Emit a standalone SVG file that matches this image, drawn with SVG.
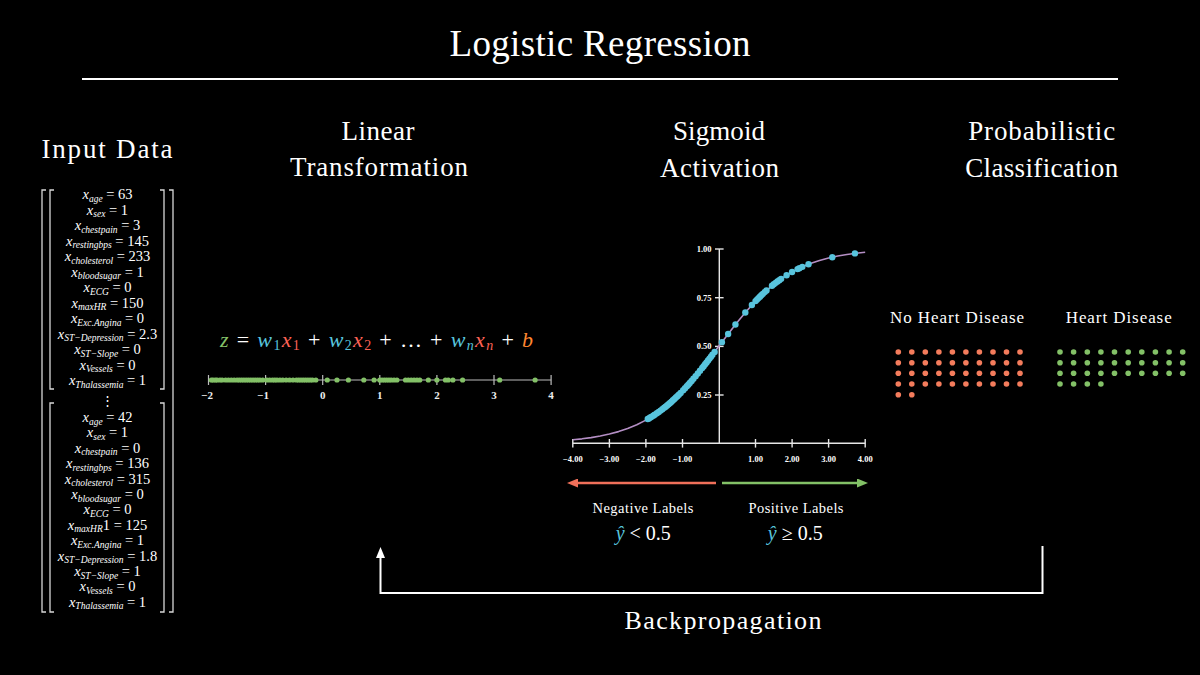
<svg xmlns="http://www.w3.org/2000/svg" width="1200" height="675" viewBox="0 0 1200 675" font-family="'Liberation Serif', 'DejaVu Serif', serif">
<style>
text{font-family:'Liberation Serif','DejaVu Serif',serif;fill:#fff}
.it{font-style:italic}
.row{font-size:14.5px;text-anchor:middle}
.sub{font-size:9.5px;font-style:italic}
.hd{font-size:27px;text-anchor:middle}
.tick{font-size:11px;font-weight:bold;text-anchor:middle;fill:#eee}
.ax{font-size:8.5px;font-weight:bold;fill:#eee}
.br{fill:none;stroke:#d8d8d8;stroke-width:1.3}
.g{fill:#83c167}.b{fill:#58c4dd}.r{fill:#fc6255}.o{fill:#ff862f}
.nd{fill:#83c167}.sd{fill:#58c4dd}
.lbl{font-size:17px;text-anchor:middle}
</style>
<defs>
<marker id="ahW" viewBox="0 0 11 9" refX="5" refY="4.5" markerWidth="11" markerHeight="9" markerUnits="userSpaceOnUse" orient="auto"><path d="M0,0 L11,4.5 L0,9 z" fill="#fff"/></marker>
<marker id="ahR" viewBox="0 0 11 9" refX="5" refY="4.5" markerWidth="11" markerHeight="9" markerUnits="userSpaceOnUse" orient="auto"><path d="M0,0 L11,4.5 L0,9 z" fill="#f0705a"/></marker>
<marker id="ahG" viewBox="0 0 11 9" refX="5" refY="4.5" markerWidth="11" markerHeight="9" markerUnits="userSpaceOnUse" orient="auto"><path d="M0,0 L11,4.5 L0,9 z" fill="#83c167"/></marker>
</defs>
<rect width="1200" height="675" fill="#000"/>

<g id="title">
<text x="600" y="56" font-size="37" text-anchor="middle" textLength="301" lengthAdjust="spacing">Logistic Regression</text>
<line x1="82" y1="79" x2="1118" y2="79" stroke="#fff" stroke-width="2"/>
</g>

<g id="input-data">
<text class="hd" x="107" y="158" textLength="131" lengthAdjust="spacing">Input Data</text>
<path class="br" d="M46,190 H42 V612 H46"/>
<path class="br" d="M54,190 H50 V389 H54"/>
<path class="br" d="M54,403 H50 V612 H54"/>
<path class="br" d="M160,190 H164 V389 H160"/>
<path class="br" d="M160,403 H164 V612 H160"/>
<path class="br" d="M169,190 H173 V612 H169"/>
<text class="row" x="107.5" y="199"><tspan class="it">x</tspan><tspan class="sub" dy="2.5">age</tspan><tspan dy="-2.5"> = 63</tspan></text>
<text class="row" x="107.5" y="214.5"><tspan class="it">x</tspan><tspan class="sub" dy="2.5">sex</tspan><tspan dy="-2.5"> = 1</tspan></text>
<text class="row" x="107.5" y="230"><tspan class="it">x</tspan><tspan class="sub" dy="2.5">chestpain</tspan><tspan dy="-2.5"> = 3</tspan></text>
<text class="row" x="107.5" y="245.5"><tspan class="it">x</tspan><tspan class="sub" dy="2.5">restingbps</tspan><tspan dy="-2.5"> = 145</tspan></text>
<text class="row" x="107.5" y="261"><tspan class="it">x</tspan><tspan class="sub" dy="2.5">cholesterol</tspan><tspan dy="-2.5"> = 233</tspan></text>
<text class="row" x="107.5" y="276.5"><tspan class="it">x</tspan><tspan class="sub" dy="2.5">bloodsugar</tspan><tspan dy="-2.5"> = 1</tspan></text>
<text class="row" x="107.5" y="292"><tspan class="it">x</tspan><tspan class="sub" dy="2.5">ECG</tspan><tspan dy="-2.5"> = 0</tspan></text>
<text class="row" x="107.5" y="307.5"><tspan class="it">x</tspan><tspan class="sub" dy="2.5">maxHR</tspan><tspan dy="-2.5"> = 150</tspan></text>
<text class="row" x="107.5" y="323"><tspan class="it">x</tspan><tspan class="sub" dy="2.5">Exc.Angina</tspan><tspan dy="-2.5"> = 0</tspan></text>
<text class="row" x="107.5" y="338.5"><tspan class="it">x</tspan><tspan class="sub" dy="2.5">ST−Depression</tspan><tspan dy="-2.5"> = 2.3</tspan></text>
<text class="row" x="107.5" y="354"><tspan class="it">x</tspan><tspan class="sub" dy="2.5">ST−Slope</tspan><tspan dy="-2.5"> = 0</tspan></text>
<text class="row" x="107.5" y="369.5"><tspan class="it">x</tspan><tspan class="sub" dy="2.5">Vessels</tspan><tspan dy="-2.5"> = 0</tspan></text>
<text class="row" x="107.5" y="385"><tspan class="it">x</tspan><tspan class="sub" dy="2.5">Thalassemia</tspan><tspan dy="-2.5"> = 1</tspan></text>
<text x="107" y="405" font-size="13" text-anchor="middle" style="font-family:'DejaVu Serif',serif">⋮</text>
<text class="row" x="107.5" y="422"><tspan class="it">x</tspan><tspan class="sub" dy="2.5">age</tspan><tspan dy="-2.5"> = 42</tspan></text>
<text class="row" x="107.5" y="437.4"><tspan class="it">x</tspan><tspan class="sub" dy="2.5">sex</tspan><tspan dy="-2.5"> = 1</tspan></text>
<text class="row" x="107.5" y="452.8"><tspan class="it">x</tspan><tspan class="sub" dy="2.5">chestpain</tspan><tspan dy="-2.5"> = 0</tspan></text>
<text class="row" x="107.5" y="468.2"><tspan class="it">x</tspan><tspan class="sub" dy="2.5">restingbps</tspan><tspan dy="-2.5"> = 136</tspan></text>
<text class="row" x="107.5" y="483.6"><tspan class="it">x</tspan><tspan class="sub" dy="2.5">cholesterol</tspan><tspan dy="-2.5"> = 315</tspan></text>
<text class="row" x="107.5" y="499"><tspan class="it">x</tspan><tspan class="sub" dy="2.5">bloodsugar</tspan><tspan dy="-2.5"> = 0</tspan></text>
<text class="row" x="107.5" y="514.4"><tspan class="it">x</tspan><tspan class="sub" dy="2.5">ECG</tspan><tspan dy="-2.5"> = 0</tspan></text>
<text class="row" x="107.5" y="529.8"><tspan class="it">x</tspan><tspan class="sub" dy="2.5">maxHR</tspan><tspan dy="-2.5">1 = 125</tspan></text>
<text class="row" x="107.5" y="545.2"><tspan class="it">x</tspan><tspan class="sub" dy="2.5">Exc.Angina</tspan><tspan dy="-2.5"> = 1</tspan></text>
<text class="row" x="107.5" y="560.6"><tspan class="it">x</tspan><tspan class="sub" dy="2.5">ST−Depression</tspan><tspan dy="-2.5"> = 1.8</tspan></text>
<text class="row" x="107.5" y="576"><tspan class="it">x</tspan><tspan class="sub" dy="2.5">ST−Slope</tspan><tspan dy="-2.5"> = 1</tspan></text>
<text class="row" x="107.5" y="591.4"><tspan class="it">x</tspan><tspan class="sub" dy="2.5">Vessels</tspan><tspan dy="-2.5"> = 0</tspan></text>
<text class="row" x="107.5" y="606.8"><tspan class="it">x</tspan><tspan class="sub" dy="2.5">Thalassemia</tspan><tspan dy="-2.5"> = 1</tspan></text>
</g>

<g id="linear-transformation">
<text class="hd" x="378" y="140" textLength="73" lengthAdjust="spacing">Linear</text>
<text class="hd" x="379" y="176" textLength="178" lengthAdjust="spacing">Transformation</text>
<text x="376.5" y="347" font-size="22" text-anchor="middle" textLength="313" lengthAdjust="spacing"><tspan class="g it">z</tspan><tspan> = </tspan><tspan class="b it">w</tspan><tspan class="b" font-size="14" dy="3">1</tspan><tspan class="r it" dy="-3">x</tspan><tspan class="r" font-size="14" dy="3">1</tspan><tspan dy="-3"> + </tspan><tspan class="b it">w</tspan><tspan class="b" font-size="14" dy="3">2</tspan><tspan class="r it" dy="-3">x</tspan><tspan class="r" font-size="14" dy="3">2</tspan><tspan dy="-3"> + … + </tspan><tspan class="b it">w</tspan><tspan class="b it" font-size="14" dy="3">n</tspan><tspan class="r it" dy="-3">x</tspan><tspan class="r it" font-size="14" dy="3">n</tspan><tspan dy="-3"> + </tspan><tspan class="o it">b</tspan></text>
<g stroke="#bbb" stroke-width="1.2">
<line x1="208.5" y1="380" x2="551.1" y2="380"/>
<line x1="208.5" y1="375" x2="208.5" y2="385"/>
<line x1="265.6" y1="375" x2="265.6" y2="385"/>
<line x1="322.7" y1="375" x2="322.7" y2="385"/>
<line x1="379.8" y1="375" x2="379.8" y2="385"/>
<line x1="436.9" y1="375" x2="436.9" y2="385"/>
<line x1="494" y1="375" x2="494" y2="385"/>
<line x1="551.1" y1="375" x2="551.1" y2="385"/>
</g>
<text class="tick" x="207" y="399">−2</text>
<text class="tick" x="263" y="399">−1</text>
<text class="tick" x="322.7" y="399">0</text>
<text class="tick" x="379.8" y="399">1</text>
<text class="tick" x="436.9" y="399">2</text>
<text class="tick" x="494" y="399">3</text>
<text class="tick" x="551.1" y="399">4</text>
<g class="nd">
<circle cx="211.35" cy="380" r="2.6"/><circle cx="213.07" cy="380" r="2.6"/><circle cx="215.35" cy="380" r="2.6"/><circle cx="217.06" cy="380" r="2.6"/><circle cx="219.92" cy="380" r="2.6"/><circle cx="222.2" cy="380" r="2.6"/><circle cx="225.63" cy="380" r="2.6"/><circle cx="228.48" cy="380" r="2.6"/><circle cx="231.34" cy="380" r="2.6"/><circle cx="234.19" cy="380" r="2.6"/><circle cx="237.05" cy="380" r="2.6"/><circle cx="239.33" cy="380" r="2.6"/><circle cx="241.62" cy="380" r="2.6"/><circle cx="243.9" cy="380" r="2.6"/><circle cx="246.19" cy="380" r="2.6"/><circle cx="248.47" cy="380" r="2.6"/><circle cx="250.75" cy="380" r="2.6"/><circle cx="253.04" cy="380" r="2.6"/><circle cx="255.32" cy="380" r="2.6"/><circle cx="257.61" cy="380" r="2.6"/><circle cx="259.89" cy="380" r="2.6"/><circle cx="262.74" cy="380" r="2.6"/><circle cx="266.74" cy="380" r="2.6"/><circle cx="269.6" cy="380" r="2.6"/><circle cx="272.45" cy="380" r="2.6"/><circle cx="274.74" cy="380" r="2.6"/><circle cx="277.02" cy="380" r="2.6"/><circle cx="279.87" cy="380" r="2.6"/><circle cx="282.73" cy="380" r="2.6"/><circle cx="286.16" cy="380" r="2.6"/><circle cx="289.58" cy="380" r="2.6"/><circle cx="293.01" cy="380" r="2.6"/><circle cx="296.43" cy="380" r="2.6"/><circle cx="298.72" cy="380" r="2.6"/><circle cx="301" cy="380" r="2.6"/><circle cx="303.29" cy="380" r="2.6"/><circle cx="305.57" cy="380" r="2.6"/><circle cx="307.85" cy="380" r="2.6"/><circle cx="310.14" cy="380" r="2.6"/><circle cx="312.42" cy="380" r="2.6"/><circle cx="315.85" cy="380" r="2.6"/><circle cx="327.27" cy="380" r="2.6"/><circle cx="336.98" cy="380" r="2.6"/><circle cx="348.4" cy="380" r="2.6"/><circle cx="363.81" cy="380" r="2.6"/><circle cx="374.09" cy="380" r="2.6"/><circle cx="379.8" cy="380" r="2.6"/><circle cx="382.08" cy="380" r="2.6"/><circle cx="384.37" cy="380" r="2.6"/><circle cx="386.65" cy="380" r="2.6"/><circle cx="388.94" cy="380" r="2.6"/><circle cx="391.22" cy="380" r="2.6"/><circle cx="394.08" cy="380" r="2.6"/><circle cx="396.93" cy="380" r="2.6"/><circle cx="405.5" cy="380" r="2.6"/><circle cx="408.35" cy="380" r="2.6"/><circle cx="411.21" cy="380" r="2.6"/><circle cx="414.06" cy="380" r="2.6"/><circle cx="416.92" cy="380" r="2.6"/><circle cx="419.77" cy="380" r="2.6"/><circle cx="428.34" cy="380" r="2.6"/><circle cx="436.9" cy="380" r="2.6"/><circle cx="445.47" cy="380" r="2.6"/><circle cx="448.32" cy="380" r="2.6"/><circle cx="452.89" cy="380" r="2.6"/><circle cx="462.6" cy="380" r="2.6"/><circle cx="499.71" cy="380" r="2.6"/><circle cx="535.11" cy="380" r="2.6"/>
</g>
</g>

<g id="sigmoid-activation">
<text class="hd" x="719" y="140" textLength="92" lengthAdjust="spacing">Sigmoid</text>
<text class="hd" x="719.5" y="177" textLength="119" lengthAdjust="spacing">Activation</text>
<g stroke="#e6e6e6" stroke-width="1.4">
<line x1="572.8" y1="443.3" x2="865.2" y2="443.3"/>
<line x1="719.3" y1="249" x2="719.3" y2="443.3"/>
<line x1="572.8" y1="439" x2="572.8" y2="447.6"/>
<line x1="609.4" y1="439" x2="609.4" y2="447.6"/>
<line x1="645.9" y1="439" x2="645.9" y2="447.6"/>
<line x1="682.5" y1="439" x2="682.5" y2="447.6"/>
<line x1="755.5" y1="439" x2="755.5" y2="447.6"/>
<line x1="792.1" y1="439" x2="792.1" y2="447.6"/>
<line x1="828.6" y1="439" x2="828.6" y2="447.6"/>
<line x1="865.2" y1="439" x2="865.2" y2="447.6"/>
<line x1="715" y1="249" x2="723.6" y2="249"/>
<line x1="715" y1="297.7" x2="723.6" y2="297.7"/>
<line x1="715" y1="346.4" x2="723.6" y2="346.4"/>
<line x1="715" y1="395" x2="723.6" y2="395"/>
</g>
<g class="ax" text-anchor="middle">
<text x="572.8" y="462">−4.00</text>
<text x="609.4" y="462">−3.00</text>
<text x="645.9" y="462">−2.00</text>
<text x="682.5" y="462">−1.00</text>
<text x="755.5" y="462">1.00</text>
<text x="792.1" y="462">2.00</text>
<text x="828.6" y="462">3.00</text>
<text x="865.2" y="462">4.00</text>
</g>
<g class="ax" text-anchor="end">
<text x="711.5" y="252">1.00</text>
<text x="711.5" y="300.7">0.75</text>
<text x="711.5" y="349.4">0.50</text>
<text x="711.5" y="398">0.25</text>
</g>
<polyline fill="none" stroke="#b48ec4" stroke-width="1.6" stroke-linejoin="round" points="572.84,439.8 581.98,438.83 591.11,437.6 600.25,436.04 609.38,434.07 618.52,431.61 627.65,428.55 636.79,424.75 645.92,420.12 655.06,414.51 664.19,407.82 673.33,399.99 682.46,390.99 691.6,380.9 700.73,369.88 709.87,358.15 719,346.05 728.14,333.95 737.27,322.22 746.41,311.2 755.54,301.1 764.68,292.12 773.81,284.28 782.95,277.58 792.08,271.98 801.22,267.36 810.35,263.56 819.49,260.49 828.62,258.02 837.76,256.06 846.89,254.5 856.03,253.28 865.16,252.3"/>
<g class="sd">
<circle cx="647.75" cy="419.07" r="3.2"/><circle cx="648.84" cy="418.42" r="3.2"/><circle cx="650.3" cy="417.55" r="3.2"/><circle cx="651.4" cy="416.87" r="3.2"/><circle cx="653.23" cy="415.7" r="3.2"/><circle cx="654.69" cy="414.75" r="3.2"/><circle cx="656.88" cy="413.25" r="3.2"/><circle cx="658.71" cy="411.97" r="3.2"/><circle cx="660.54" cy="410.62" r="3.2"/><circle cx="662.36" cy="409.24" r="3.2"/><circle cx="664.19" cy="407.82" r="3.2"/><circle cx="665.65" cy="406.64" r="3.2"/><circle cx="667.11" cy="405.43" r="3.2"/><circle cx="668.57" cy="404.21" r="3.2"/><circle cx="670.04" cy="402.94" r="3.2"/><circle cx="671.5" cy="401.64" r="3.2"/><circle cx="672.96" cy="400.32" r="3.2"/><circle cx="674.42" cy="398.97" r="3.2"/><circle cx="675.88" cy="397.57" r="3.2"/><circle cx="677.34" cy="396.17" r="3.2"/><circle cx="678.81" cy="394.73" r="3.2"/><circle cx="680.63" cy="392.89" r="3.2"/><circle cx="683.19" cy="390.22" r="3.2"/><circle cx="685.02" cy="388.28" r="3.2"/><circle cx="686.84" cy="386.27" r="3.2"/><circle cx="688.31" cy="384.64" r="3.2"/><circle cx="689.77" cy="383" r="3.2"/><circle cx="691.59" cy="380.9" r="3.2"/><circle cx="693.42" cy="378.77" r="3.2"/><circle cx="695.61" cy="376.14" r="3.2"/><circle cx="697.81" cy="373.49" r="3.2"/><circle cx="700" cy="370.77" r="3.2"/><circle cx="702.19" cy="368.03" r="3.2"/><circle cx="703.65" cy="366.18" r="3.2"/><circle cx="705.11" cy="364.31" r="3.2"/><circle cx="706.58" cy="362.43" r="3.2"/><circle cx="708.04" cy="360.52" r="3.2"/><circle cx="709.5" cy="358.61" r="3.2"/><circle cx="710.96" cy="356.71" r="3.2"/><circle cx="712.42" cy="354.78" r="3.2"/><circle cx="714.62" cy="351.88" r="3.2"/><circle cx="721.92" cy="342.16" r="3.2"/><circle cx="728.14" cy="333.95" r="3.2"/><circle cx="735.44" cy="324.54" r="3.2"/><circle cx="745.31" cy="312.48" r="3.2"/><circle cx="751.89" cy="305.03" r="3.2"/><circle cx="755.54" cy="301.1" r="3.2"/><circle cx="757" cy="299.58" r="3.2"/><circle cx="758.46" cy="298.11" r="3.2"/><circle cx="759.92" cy="296.65" r="3.2"/><circle cx="761.39" cy="295.23" r="3.2"/><circle cx="762.85" cy="293.83" r="3.2"/><circle cx="764.68" cy="292.12" r="3.2"/><circle cx="766.5" cy="290.46" r="3.2"/><circle cx="771.98" cy="285.75" r="3.2"/><circle cx="773.81" cy="284.28" r="3.2"/><circle cx="775.64" cy="282.84" r="3.2"/><circle cx="777.46" cy="281.48" r="3.2"/><circle cx="779.29" cy="280.13" r="3.2"/><circle cx="781.12" cy="278.85" r="3.2"/><circle cx="786.6" cy="275.23" r="3.2"/><circle cx="792.08" cy="271.98" r="3.2"/><circle cx="797.56" cy="269.09" r="3.2"/><circle cx="799.39" cy="268.21" r="3.2"/><circle cx="802.31" cy="266.85" r="3.2"/><circle cx="808.52" cy="264.24" r="3.2"/><circle cx="832.27" cy="257.18" r="3.2"/><circle cx="854.93" cy="253.41" r="3.2"/>
</g>
<line x1="716" y1="483" x2="573" y2="483" stroke="#f0705a" stroke-width="2.5" marker-end="url(#ahR)"/>
<line x1="722" y1="483" x2="862" y2="483" stroke="#83c167" stroke-width="2.5" marker-end="url(#ahG)"/>
<text x="643" y="512.5" font-size="14.5" text-anchor="middle" textLength="101" lengthAdjust="spacing">Negative Labels</text>
<text x="796" y="512.5" font-size="14.5" text-anchor="middle" textLength="95" lengthAdjust="spacing">Positive Labels</text>
<text x="643.3" y="539.5" font-size="20" text-anchor="middle"><tspan class="b it">ŷ</tspan> &lt; 0.5</text>
<text x="795.3" y="539.5" font-size="20" text-anchor="middle"><tspan class="b it">ŷ</tspan> ≥ 0.5</text>
</g>

<g id="classification">
<text class="hd" x="1041.7" y="140" textLength="147" lengthAdjust="spacing">Probabilistic</text>
<text class="hd" x="1041.7" y="177" textLength="153" lengthAdjust="spacing">Classification</text>
<text class="lbl" x="957" y="322.5" textLength="134" lengthAdjust="spacing">No Heart Disease</text>
<text class="lbl" x="1118.7" y="322.5" textLength="106" lengthAdjust="spacing">Heart Disease</text>
<g fill="#f47c5c">
<circle cx="898.3" cy="352" r="2.8"/><circle cx="911.8" cy="352" r="2.8"/><circle cx="925.3" cy="352" r="2.8"/><circle cx="938.9" cy="352" r="2.8"/><circle cx="952.4" cy="352" r="2.8"/><circle cx="965.9" cy="352" r="2.8"/><circle cx="979.4" cy="352" r="2.8"/><circle cx="993" cy="352" r="2.8"/><circle cx="1006.5" cy="352" r="2.8"/><circle cx="1020" cy="352" r="2.8"/>
<circle cx="898.3" cy="362.7" r="2.8"/><circle cx="911.8" cy="362.7" r="2.8"/><circle cx="925.3" cy="362.7" r="2.8"/><circle cx="938.9" cy="362.7" r="2.8"/><circle cx="952.4" cy="362.7" r="2.8"/><circle cx="965.9" cy="362.7" r="2.8"/><circle cx="979.4" cy="362.7" r="2.8"/><circle cx="993" cy="362.7" r="2.8"/><circle cx="1006.5" cy="362.7" r="2.8"/><circle cx="1020" cy="362.7" r="2.8"/>
<circle cx="898.3" cy="373.3" r="2.8"/><circle cx="911.8" cy="373.3" r="2.8"/><circle cx="925.3" cy="373.3" r="2.8"/><circle cx="938.9" cy="373.3" r="2.8"/><circle cx="952.4" cy="373.3" r="2.8"/><circle cx="965.9" cy="373.3" r="2.8"/><circle cx="979.4" cy="373.3" r="2.8"/><circle cx="993" cy="373.3" r="2.8"/><circle cx="1006.5" cy="373.3" r="2.8"/><circle cx="1020" cy="373.3" r="2.8"/>
<circle cx="898.3" cy="384" r="2.8"/><circle cx="911.8" cy="384" r="2.8"/><circle cx="925.3" cy="384" r="2.8"/><circle cx="938.9" cy="384" r="2.8"/><circle cx="952.4" cy="384" r="2.8"/><circle cx="965.9" cy="384" r="2.8"/><circle cx="979.4" cy="384" r="2.8"/><circle cx="993" cy="384" r="2.8"/><circle cx="1006.5" cy="384" r="2.8"/><circle cx="1020" cy="384" r="2.8"/>
<circle cx="898.3" cy="394.7" r="2.8"/><circle cx="911.8" cy="394.7" r="2.8"/>
</g>
<g fill="#83c167">
<circle cx="1060" cy="352" r="2.8"/><circle cx="1073.6" cy="352" r="2.8"/><circle cx="1087.3" cy="352" r="2.8"/><circle cx="1100.9" cy="352" r="2.8"/><circle cx="1114.5" cy="352" r="2.8"/><circle cx="1128.2" cy="352" r="2.8"/><circle cx="1141.8" cy="352" r="2.8"/><circle cx="1155.4" cy="352" r="2.8"/><circle cx="1169.1" cy="352" r="2.8"/><circle cx="1182.7" cy="352" r="2.8"/>
<circle cx="1060" cy="362.7" r="2.8"/><circle cx="1073.6" cy="362.7" r="2.8"/><circle cx="1087.3" cy="362.7" r="2.8"/><circle cx="1100.9" cy="362.7" r="2.8"/><circle cx="1114.5" cy="362.7" r="2.8"/><circle cx="1128.2" cy="362.7" r="2.8"/><circle cx="1141.8" cy="362.7" r="2.8"/><circle cx="1155.4" cy="362.7" r="2.8"/><circle cx="1169.1" cy="362.7" r="2.8"/><circle cx="1182.7" cy="362.7" r="2.8"/>
<circle cx="1060" cy="373.3" r="2.8"/><circle cx="1073.6" cy="373.3" r="2.8"/><circle cx="1087.3" cy="373.3" r="2.8"/><circle cx="1100.9" cy="373.3" r="2.8"/><circle cx="1114.5" cy="373.3" r="2.8"/><circle cx="1128.2" cy="373.3" r="2.8"/><circle cx="1141.8" cy="373.3" r="2.8"/><circle cx="1155.4" cy="373.3" r="2.8"/><circle cx="1169.1" cy="373.3" r="2.8"/><circle cx="1182.7" cy="373.3" r="2.8"/>
<circle cx="1060" cy="384" r="2.8"/><circle cx="1073.6" cy="384" r="2.8"/><circle cx="1087.3" cy="384" r="2.8"/><circle cx="1100.9" cy="384" r="2.8"/>
</g>
</g>

<g id="connectors">
<path d="M1042.5,546 V593 H380.5 V553" fill="none" stroke="#fff" stroke-width="2" marker-end="url(#ahW)"/>
</g>

<g id="backpropagation">
<text x="723" y="629" font-size="26" text-anchor="middle" textLength="197" lengthAdjust="spacing">Backpropagation</text>
</g>
</svg>
